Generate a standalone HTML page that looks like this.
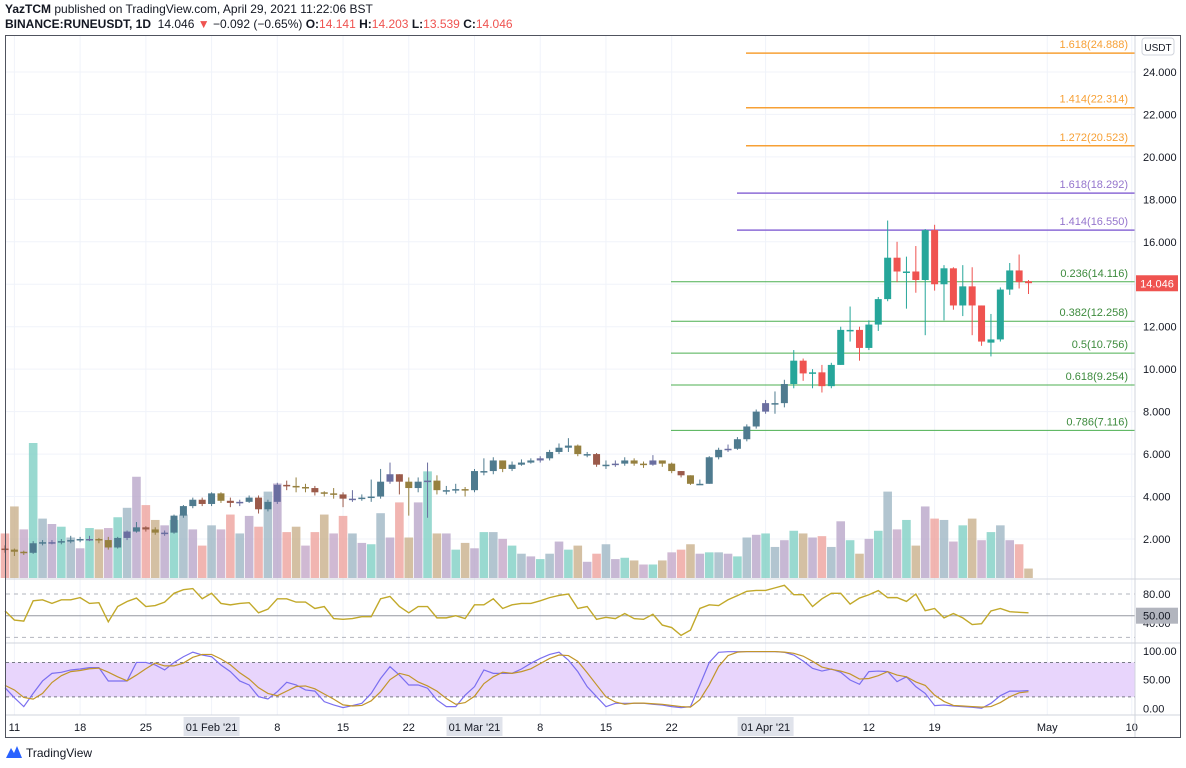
<!DOCTYPE html>
<html><head><meta charset="utf-8">
<style>
html,body{margin:0;padding:0;background:#fff;}
body{width:1186px;height:768px;overflow:hidden;position:relative;font-family:"Liberation Sans",sans-serif;}
#hdr1{position:absolute;left:5px;top:2px;font-size:12px;color:#131722;}
#hdr2{position:absolute;left:5px;top:17px;font-size:12px;color:#131722;}
.r{color:#ef5350}
svg{position:absolute;left:0;top:0}
</style></head>
<body>
<div id="hdr1"><b>YazTCM</b> published on TradingView.com, April 29, 2021 11:22:06 BST</div>
<div id="hdr2"><b>BINANCE:RUNEUSDT, 1D</b>&nbsp; 14.046 <span class="r">▼</span> −0.092 (−0.65%) <b>O:</b><span class="r">14.141</span> <b>H:</b><span class="r">14.203</span> <b>L:</b><span class="r">13.539</span> <b>C:</b><span class="r">14.046</span></div>
<svg id="chart" width="1186" height="768"></svg>
<script>
const closes=[1.5,1.4,1.35,1.8,1.85,1.85,1.9,1.95,2.0,2.0,1.95,1.6,2.05,2.35,2.55,2.45,2.3,2.3,3.1,3.55,3.85,3.65,4.15,3.8,3.7,3.75,3.95,3.4,3.75,4.55,4.5,4.45,4.4,4.2,4.15,4.1,3.9,3.9,3.95,4.0,4.7,5.05,4.7,4.4,4.7,4.75,4.3,4.3,4.35,4.3,5.2,5.2,5.7,5.3,5.5,5.6,5.7,5.8,6.1,6.3,6.4,6.0,6.0,5.5,5.5,5.55,5.7,5.55,5.5,5.7,5.55,5.2,5.0,4.6,4.6,5.85,6.2,6.25,6.7,7.3,8.0,8.4,8.4,9.3,10.4,9.8,9.85,9.2,10.2,11.85,11.85,11.0,12.1,13.3,15.25,14.6,14.6,14.2,16.55,14.0,14.75,13.0,13.9,13.0,11.3,11.4,13.75,14.65,14.1,14.05];
const opens=[1.55,1.5,1.4,1.35,1.8,1.85,1.85,1.9,1.95,2.0,2.0,1.95,1.6,2.05,2.35,2.55,2.45,2.3,2.3,3.1,3.55,3.85,3.65,4.15,3.8,3.7,3.75,3.95,3.4,3.75,4.55,4.5,4.45,4.4,4.2,4.15,4.1,3.9,3.9,3.95,4.0,4.7,5.05,4.7,4.4,4.7,4.75,4.3,4.3,4.35,4.3,5.2,5.2,5.7,5.3,5.5,5.6,5.7,5.8,6.1,6.3,6.4,6.0,6.0,5.5,5.5,5.55,5.7,5.55,5.5,5.7,5.55,5.2,5.0,4.6,4.6,5.85,6.2,6.25,6.7,7.3,8.0,8.4,8.4,9.3,10.4,9.8,9.85,9.2,10.2,11.85,11.85,11.0,12.1,13.3,15.25,14.6,14.6,14.2,16.55,14.0,14.75,13.0,13.9,13.0,11.25,11.4,13.75,14.65,14.14];
const highs=[1.7,1.55,1.45,1.9,1.95,1.95,2.0,2.15,2.1,2.15,2.05,2.1,2.1,2.4,2.8,2.6,2.55,2.4,3.15,3.6,3.95,3.95,4.2,4.2,3.95,3.85,4.05,4.05,3.85,4.65,4.75,4.9,4.6,4.5,4.25,4.4,4.2,4.3,4.1,4.8,5.3,5.6,5.05,4.9,4.9,5.6,5.0,4.5,4.6,4.45,5.3,5.8,5.85,5.7,5.65,5.75,5.8,5.9,6.2,6.5,6.75,6.45,6.1,6.05,5.7,5.7,5.85,5.8,5.65,5.95,5.7,5.6,5.2,5.0,4.8,5.9,6.3,6.45,6.8,7.4,8.1,8.55,8.95,9.5,10.9,10.5,10.0,10.2,10.3,12.0,12.95,12.0,12.3,13.4,17.0,16.0,15.3,15.8,16.6,16.8,14.9,14.8,14.9,14.8,13.0,12.6,13.85,15.0,15.4,14.2];
const lows=[1.35,1.2,1.25,1.3,1.7,1.75,1.75,1.8,1.85,1.9,1.8,1.5,1.55,1.95,2.3,2.35,2.2,2.15,2.25,3.0,3.45,3.55,3.55,3.7,3.5,3.55,3.7,3.2,3.3,3.65,4.3,4.2,4.2,4.05,4.0,3.9,3.5,3.75,3.8,3.75,3.9,4.6,4.1,3.1,4.2,3.0,4.1,4.1,4.15,4.0,4.2,5.0,5.05,5.15,5.2,5.45,5.55,5.6,5.7,6.0,6.1,5.9,5.85,5.4,5.3,5.4,5.45,5.45,5.35,5.45,5.4,5.1,4.9,4.55,4.55,4.6,5.75,6.1,6.2,6.6,7.2,7.9,7.9,8.2,9.1,9.45,9.1,8.9,9.1,10.2,11.3,10.4,10.9,11.8,13.2,14.1,12.85,13.6,11.6,13.7,12.3,12.8,12.5,11.6,11.1,10.6,11.3,13.5,13.8,13.54];
const volumes=[3.3,5.3,3.6,10,4.4,4.0,3.8,3.0,2.2,3.7,3.6,3.7,4.5,5.2,7.5,5.4,4.3,3.9,4.3,4.7,3.6,2.4,3.9,3.6,4.7,3.3,4.6,3.8,6.4,7.0,3.4,3.8,2.4,3.4,4.7,3.3,4.6,3.3,2.6,2.5,4.8,3.0,5.6,3.0,5.6,7.9,3.3,3.3,2.1,2.6,2.2,3.4,3.4,2.9,2.4,1.8,1.6,1.4,1.8,2.7,2.1,2.4,1.2,1.8,2.5,1.4,1.5,1.3,1.0,1.0,1.3,1.9,2.1,2.5,1.8,1.9,1.9,1.8,1.6,3.0,3.2,3.3,2.3,2.8,3.5,3.3,3.0,3.1,2.3,4.2,2.8,1.8,2.9,3.5,6.4,3.6,4.3,2.4,5.3,4.4,4.3,2.7,3.9,4.4,2.8,3.4,3.9,2.8,2.5,0.7];
const rsi=[56.6,44,42.5,70.6,72,67,72,72,75,67,68,41.5,62.7,69.7,74.4,62.7,64,68.8,81,86,87.5,73.4,81,67,65,67,68,54,59,73.4,73.4,68.8,68.8,60,62.7,46,45,46,48.6,48.6,73.4,76.7,62.7,54,62.7,62.7,47,47,50,46,65,65,73.4,60,65,67,67,70.6,75,78,80,60,62.7,45,47.7,46,53,46,45,52,37,33.6,22.8,30,60,65,64,72,77.7,83.8,85,85,88.5,92,79,79,62.7,73.4,81,81,66,74.4,79,84.7,75,75,69.7,80,57,60,47,53,47,37.8,39,56.6,60,55.6,54.7,54];
const stochK=[36,18.6,2.9,26,47.7,61,62.8,66.9,68.6,71,71,47.7,47.7,47.7,80,80,75.6,66.9,80,90,98,93,90,75.6,64,47.7,40.7,20.3,16.3,29,45.3,40.7,32,30,11.6,5.8,1.2,4.7,8.7,26,52,72.7,58,40.7,40.7,35,14.5,2.9,2.9,23,37.8,66.9,61,61,61,68.6,78.5,87,94,98,84,64,37.8,20.3,2.9,8.7,8.7,8.7,8.7,7,5.8,2.9,1.2,2.9,40.7,80,97.7,98.8,98.8,98.8,98.8,98.8,98.8,97.7,93,82.6,69.8,65,68.6,62.8,49.4,41.9,64,65,64,46.5,55,37.8,26,4.7,5.8,4,2.9,1.7,0,8.7,22,30,30,31];
const stochD=[40,32,19,16,26,45,57,64,66,69,70,63,55,48,58,69,79,74,74,79,89,94,94,86,76,62,51,36,26,22,30,38,39,34,25,16,6,4,5,13,29,50,61,57,46,39,30,17,7,10,21,43,55,63,61,64,69,78,87,93,92,82,62,41,20,11,7,9,9,8,7,5,3,2,15,41,73,92,98,99,99,99,99,98,96,91,82,72,68,65,60,51,52,57,64,58,55,46,40,23,12,5,4,3,2,3,10,20,27,29];
const fibLevels=[24.888,22.314,20.523,18.292,16.550,14.116,12.258,10.756,9.254,7.116];
const fibRatios=["1.618","1.414","1.272","1.618","1.414","0.236","0.382","0.5","0.618","0.786"];
const priceTicks=[2,4,6,8,10,12,14,16,18,20,22,24];
const dateLabels=[["11",0],["18",0],["25",0],["01 Feb '21",1],["8",0],["15",0],["22",0],["01 Mar '21",1],["8",0],["15",0],["22",0],["01 Apr '21",1],["12",0],["19",0],["May",0],["10",0]];
const dateIdx=[1,8,15,22,29,36,43,50,57,64,71,81,92,99,111,120];

const NS="http://www.w3.org/2000/svg";
const svg=document.getElementById('chart');
function el(t,a,p){const e=document.createElementNS(NS,t);for(const k in a)e.setAttribute(k,a[k]);(p||svg).appendChild(e);return e;}
const xS=i=>5+9.39*i;
const yP=v=>539-(v-2)*21.23;
const yV=v=>578-v*13.5;
const yR=v=>615.7-(v-50)*0.723;
const yS=v=>708.3-v*0.573;
const R=1135;

// grid
dateIdx.forEach(d=>{const g=el('line',{x1:xS(d),x2:xS(d),y1:36,y2:715,stroke:'#f0f3fa'});

});
priceTicks.forEach(v=>{const g=el('line',{x1:6,x2:R,y1:yP(v),y2:yP(v),stroke:'#f0f3fa'});

});

// volume
volumes.forEach((v,i)=>{const up=closes[i]>=opens[i];
const cols=up?['#7fcfc4','#9fb6c4','#b9a6c9']:['#eea39e','#c9b08c','#c4a8c8'];
const b=el('rect',{x:xS(i)-4.3,y:yV(v),width:8.6,height:v*13.5,fill:cols[i%3],opacity:0.8});

});

// fib
fibLevels.forEach((v,k)=>{const c=k<3?'#f7a035':(k<5?'#8c6bd6':'#4caf50');const x0=k<3?746:(k<5?737:671);
const l=el('line',{x1:x0,x2:R,y1:yP(v),y2:yP(v),stroke:c,'stroke-width':k<5?1.5:1});


const t=el('text',{x:1128,y:yP(v)-5,'text-anchor':'end','font-size':11,fill:k<3?'#f7a035':(k<5?'#9575cd':'#3d8b3d')});
t.textContent=fibRatios[k]+'('+v.toFixed(3)+')';

});

// candles
closes.forEach((c,i)=>{const o=opens[i],up=c>=o;let col;
if(i<84)col=up?(i%4==1?'#6a6ea0':'#4f7b8f'):(i%3==0?'#9b5a4a':'#96803f');else col=up?'#26a69a':'#ef5350';
const g=el('g',{});


el('line',{x1:xS(i),x2:xS(i),y1:yP(highs[i]),y2:yP(lows[i]),stroke:col,'stroke-width':1},g);
const t=Math.min(yP(o),yP(c)),h=Math.max(1.5,Math.abs(yP(o)-yP(c)));
el('rect',{x:xS(i)-3.5,y:t,width:7,height:h,fill:col},g);});

// price axis
priceTicks.forEach(v=>{const t=el('text',{x:1143,y:yP(v)+4,'font-size':11,fill:'#131722'});t.textContent=v.toFixed(3);

});
const ub=el('rect',{x:1142,y:38,width:32,height:17,rx:3,fill:'#fff',stroke:'#d1d4dc'});


const ut=el('text',{x:1158,y:51,'text-anchor':'middle','font-size':10,fill:'#131722'});ut.textContent='USDT';


const pb=el('rect',{x:1136,y:yP(14.046)-8,width:42,height:16,fill:'#ef5350'});


const pt=el('text',{x:1157,y:yP(14.046)+4,'text-anchor':'middle','font-size':11,fill:'#fff'});pt.textContent='14.046';



// pane separators
[579,643,715].forEach(y=>{const l=el('line',{x1:5,x2:1181,y1:y,y2:y,stroke:'#d1d4dc'});

});

// RSI pane
[80,20].forEach(v=>{const l=el('line',{x1:6,x2:R,y1:yR(v),y2:yR(v),stroke:'#b2b5be','stroke-dasharray':'4 4'});

});
const m=el('line',{x1:6,x2:R,y1:yR(50),y2:yR(50),stroke:'#9598a1'});


const rl=el('polyline',{points:rsi.map((v,i)=>xS(i)+','+yR(v)).join(' '),fill:'none',stroke:'#c2a92a','stroke-width':1.4});


[[80,'80.00'],[40,'40.00']].forEach(a=>{const t=el('text',{x:1143,y:yR(a[0])+4,'font-size':11,fill:'#131722'});t.textContent=a[1];

});
const rb=el('rect',{x:1136,y:yR(50)-8,width:42,height:16,fill:'#b2b5be'});


const rt=el('text',{x:1143,y:yR(50)+4,'font-size':11,fill:'#131722'});rt.textContent='50.00';



// Stoch pane
const band=el('rect',{x:6,y:yS(80),width:R-6,height:yS(20)-yS(80),fill:'#e8d5fc'});


[80,20].forEach(v=>{const l=el('line',{x1:6,x2:R,y1:yS(v),y2:yS(v),stroke:'#787b86','stroke-dasharray':'3 3'});

});
const kl=el('polyline',{points:stochK.map((v,i)=>xS(i)+','+yS(v)).join(' '),fill:'none',stroke:'#7b6ff0','stroke-width':1.2});


const dl=el('polyline',{points:stochD.map((v,i)=>xS(i)+','+yS(v)).join(' '),fill:'none',stroke:'#c2952a','stroke-width':1.2});


[[100,'100.00'],[50,'50.00'],[0,'0.00']].forEach(a=>{const t=el('text',{x:1143,y:yS(a[0])+4,'font-size':11,fill:'#131722'});t.textContent=a[1];

});

// x axis
dateLabels.forEach((a,k)=>{const x=xS(dateIdx[k]);
if(a[1]){const b=el('rect',{x:x-28,y:717,width:56,height:19,fill:'#e0e3eb'});

}
const t=el('text',{x:x,y:731,'text-anchor':'middle','font-size':11,fill:'#131722'});t.textContent=a[0];

});
const ax=el('line',{x1:R,x2:R,y1:36,y2:738,stroke:'#d1d4dc'});


const fr=el('rect',{x:5.5,y:35.5,width:1175,height:702,fill:'none',stroke:'#50535e'});



// footer
const lg=el('path',{d:'M6 758 L11 748 L14 753 L17 746 L22 758 Z',fill:'#2962ff'});


const ft=el('text',{x:26,y:757,'font-size':12,fill:'#131722'});ft.textContent='TradingView';


</script>
</body></html>
